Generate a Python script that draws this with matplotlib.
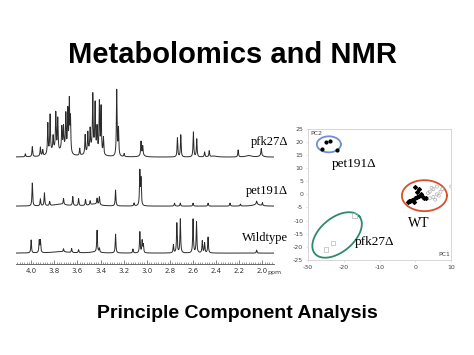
import numpy as np
import matplotlib
matplotlib.use("Agg")
import matplotlib.pyplot as plt

plt.rcParams["axes.unicode_minus"] = False

# NMR peaks: ppm position and height (pixels above baseline)
pfk_ppm = [4.05, 3.99, 3.92, 3.90, 3.856, 3.836, 3.81, 3.787, 3.77, 3.735, 3.72,
           3.70, 3.683, 3.67, 3.66, 3.58, 3.533, 3.51, 3.49, 3.467, 3.447, 3.43,
           3.41, 3.395, 3.375, 3.26, 3.245, 3.196, 3.05, 3.035, 2.735, 2.706,
           2.597, 2.568, 2.50, 2.46, 2.21, 2.01]
pfk_h = [3, 10, 9, 6, 31, 38, 14, 37, 32, 22, 21, 36, 41, 51, 34, 7, 19, 20, 21,
         54, 47, 24, 51, 47, 17, 66, 27, 3, 14, 9, 19, 22, 25, 18, 5, 6, 7, 7]

pet_ppm = [3.99, 3.92, 3.885, 3.84, 3.72, 3.64, 3.59, 3.53, 3.49, 3.43, 3.41,
           3.27, 3.11, 3.06, 3.05, 2.76, 2.71, 2.60, 2.47, 2.28, 2.19, 2.05, 2.0]
pet_h = [23, 7, 13, 4, 6, 9, 7, 6, 4, 6, 8, 16, 3, 34, 26, 3, 3, 3, 3, 3, 2, 3, 3]

wt_ppm = [4.0, 3.93, 3.92, 3.72, 3.65, 3.59, 3.43, 3.41, 3.27, 3.12, 3.06, 3.04,
          3.03, 2.77, 2.74, 2.71, 2.60, 2.57, 2.52, 2.50, 2.47, 2.05]
wt_h = [13, 12, 12, 3, 4, 3, 22, 4, 19, 4, 21, 12, 8, 8, 30, 34, 34, 31, 12, 10,
        16, 3]

# broad humps under the crowded sugar region (ppm, height, width)
pfk_broad = [(3.80, 6, 0.04), (3.72, 7, 0.03), (3.47, 8, 0.04), (3.04, 2, 0.02),
             (2.42, 1, 0.03), (2.12, 1.5, 0.03), (2.01, 1.5, 0.02)]
pet_broad = [(3.75, 2, 0.06), (3.45, 2, 0.05), (2.05, 2, 0.03)]
wt_broad = [(3.75, 1.5, 0.08), (3.45, 1, 0.05)]

spectra_labels = ["pfk27\u0394", "pet191\u0394", "Wildtype"]
ppm_ticks = [4.0, 3.8, 3.6, 3.4, 3.2, 3.0, 2.8, 2.6, 2.4, 2.2, 2.0]

# PCA scores
pet_x = [-26, -25, -24, -22]
pet_y = [17.5, 20, 20.5, 17]
wt_black_x = [-2, -1.5, -1, 0, 1, 0.5, 1, 2, 1.5, 2.5, 3, -0.5, 0.5, -1.8, 0]
wt_black_y = [-3, -2.5, -2, 3, 2, -1, -0.5, -1, 0, -1.5, -1.5, -3, 1, -2.5, -1.5]
wt_gray_x = [4, 5, 6, 5, 7, 6, 4, 5.5, 7.5, 3.5, 6.5, 4.5, 10]
wt_gray_y = [1, 2, 0, -1, 1, 3, -1.5, -2, 2, 0.5, -0.5, 2.5, 3]
pfk_x = [-23, -25, -17]
pfk_y = [-18.5, -21, -8]

# group ellipses: centre (data), half axes (pixels), tilt (deg), colour
groups = [((-24.2, 19.1), 12, 8, 0, "#6f8fd6"),
          ((2.5, -0.5), 22.5, 15.5, 0, "#d9502a"),
          ((-21.9, -15.5), 29, 17, 40, "#2e8a6a")]


def spectrum(ppm, peaks, heights, broad, gamma=0.0035):
    y = np.zeros_like(ppm)
    for p, h in zip(peaks, heights):
        y += h * gamma ** 2 / ((ppm - p) ** 2 + gamma ** 2)
    for p, h, w in broad:
        y += h * w ** 2 / ((ppm - p) ** 2 + w ** 2)
    return y


def plot_spectra(ax):
    ppm = np.linspace(4.13, 1.90, 3000)
    sets = [(pfk_ppm, pfk_h, pfk_broad, 107),
            (pet_ppm, pet_h, pet_broad, 58),
            (wt_ppm, wt_h, wt_broad, 11)]
    for (pk, hh, br, base), lab in zip(sets, spectra_labels):
        y = spectrum(ppm, pk, hh, br)
        ax.plot(ppm, base + y, color="#2b2b2b", lw=0.7)
        ax.text(1.78, base + 15, lab, fontsize=9, family="Liberation Serif",
                ha="right", va="center", clip_on=False)
    ax.set_xlim(4.13, 1.90)
    ax.set_ylim(0, 180)
    for s in ["top", "left", "right"]:
        ax.spines[s].set_visible(False)
    ax.spines["bottom"].set_linewidth(0.6)
    ax.spines["bottom"].set_color("#555555")
    ax.set_yticks([])
    ax.set_xticks(ppm_ticks)
    ax.set_xticklabels([f"{t:.1f}" for t in ppm_ticks])
    ax.set_xticks(np.arange(1.92, 4.13, 0.02), minor=True)
    ax.tick_params(axis="x", which="major", direction="in", length=3, width=0.5,
                   labelsize=5, pad=3, colors="#555555", labelcolor="#333333")
    ax.tick_params(axis="x", which="minor", direction="in", length=1.8, width=0.4,
                   colors="#555555")
    ax.text(1.955, -8, "ppm", fontsize=4.5, color="#333333", ha="left",
            va="center", clip_on=False)


def plot_pca(ax, fig):
    ax.set_xlim(-30, 10)
    ax.set_ylim(-25, 25)
    # pixels per data unit, so the ellipses keep their on-screen shape
    bb = ax.get_position()
    sx = bb.width * fig.get_figwidth() * fig.dpi / 40
    sy = bb.height * fig.get_figheight() * fig.dpi / 50
    t = np.linspace(0, 2 * np.pi, 200)
    for (cx, cy), a, b, ang, col in groups:
        th = np.radians(ang)
        px = a * np.cos(t) * np.cos(th) - b * np.sin(t) * np.sin(th)
        py = a * np.cos(t) * np.sin(th) + b * np.sin(t) * np.cos(th)
        ax.plot(cx + px / sx, cy + py / sy, color=col, lw=1.3, zorder=2)

    ax.scatter(pet_x, pet_y, s=4, color="black", zorder=3)
    ax.scatter(wt_black_x, wt_black_y, s=3.5, color="black", marker="D", zorder=3)
    ax.scatter(wt_gray_x, wt_gray_y, s=5, facecolor="none", edgecolor="#b0b0b0",
               lw=0.5, zorder=3)
    ax.scatter(pfk_x, pfk_y, s=10, facecolor="none", edgecolor="#b8b8b8",
               marker="s", lw=0.5, zorder=3)
    ax.text(-23.5, 11.5, "pet191\u0394", fontsize=9.5, family="Liberation Serif",
            va="center")
    ax.text(-2, -11, "WT", fontsize=10, family="Liberation Serif", va="center")
    ax.text(-17, -18, "pfk27\u0394", fontsize=9.5, family="Liberation Serif",
            va="center")
    ax.text(-29.5, 23.3, "PC2", fontsize=4.5, color="#444444", va="center")
    ax.text(9.6, -22.8, "PC1", fontsize=4.5, color="#444444", va="center",
            ha="right")
    ax.set_xticks([-30, -20, -10, 0, 10])
    ax.set_yticks(np.arange(-25, 26, 5))
    for s in ax.spines.values():
        s.set_color("#d0d0d0")
        s.set_linewidth(0.6)
    ax.tick_params(labelsize=4.5, length=1.5, width=0.4, colors="#d0d0d0",
                   labelcolor="#444444", pad=2)


def main():
    fig = plt.figure(figsize=(4.74, 3.55), dpi=100)
    fig.text(0.49, 0.845, "Metabolomics and NMR", fontsize=21, weight="bold",
             family="Liberation Sans", ha="center", va="center")
    fig.text(0.50, 0.118, "Principle Component Analysis", fontsize=14,
             weight="bold", family="Liberation Sans", ha="center", va="center")

    ax = fig.add_axes([0.034, 0.256, 0.544, 0.507])
    plot_spectra(ax)

    bx = fig.add_axes([0.650, 0.268, 0.302, 0.369])
    plot_pca(bx, fig)

    fig.savefig("out.png", dpi=100)


if __name__ == '__main__':
    main()
